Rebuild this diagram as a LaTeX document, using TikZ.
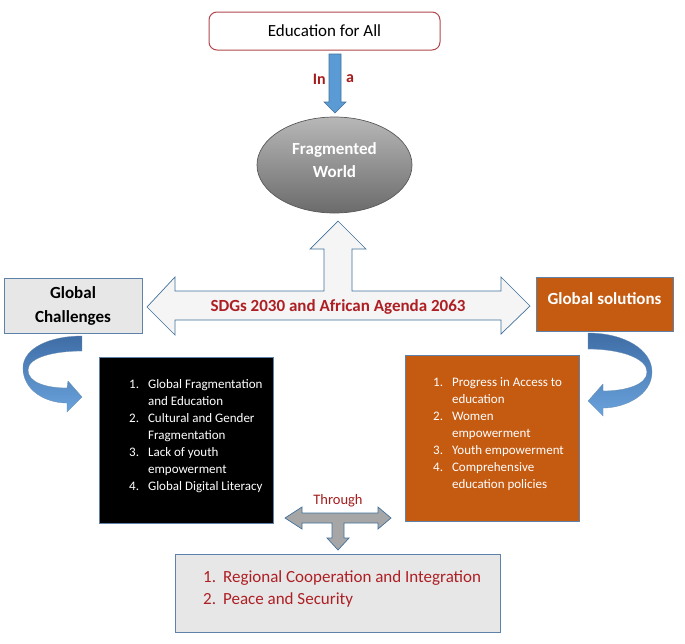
\documentclass[tikz,border=0pt]{standalone}
\usepackage{fontspec}
\setmainfont{Carlito}
\usetikzlibrary{shapes.geometric}
\definecolor{dred}{HTML}{A51C1C}
\definecolor{listred}{HTML}{AE1F24}
\definecolor{borderred}{HTML}{B0474A}
\definecolor{steel}{HTML}{41719C}
\definecolor{arrowblue}{HTML}{5B9BD5}
\definecolor{orng}{HTML}{C55A11}
\definecolor{lgray}{HTML}{E7E7E7}
\definecolor{boxborder}{HTML}{5F82AA}
\definecolor{cdark}{HTML}{3F6DA6}
\definecolor{clight}{HTML}{6AA3DC}
\definecolor{blockwhite}{HTML}{F5F5F5}
\definecolor{blockgray}{HTML}{A6A6A6}
\tikzset{
  plainbox/.style={draw=boxborder, line width=0.6pt, inner sep=0pt},
  bigbold/.style={font=\bfseries\fontsize{17}{24}\selectfont},
  listtext/.style={inner sep=0pt, anchor=north west, text=white},
  blockarrow/.style={draw=steel, line width=0.7pt},
  curvedarrow/.style={draw=steel!80, line width=0.3pt, top color=cdark, bottom color=clight}
}
\begin{document}
\begin{tikzpicture}[x=1pt,y=-1pt]
\useasboundingbox[fill=white] (0,0) rectangle (685,643);

% Education for All
\node[rounded corners=8pt, draw=borderred, line width=1pt, fill=white,
      minimum width=231pt, minimum height=38pt, font=\fontsize{17}{20}\selectfont]
      (efa) at (324.5,31) {Education for All};

% down arrow
\draw[fill=arrowblue, draw=steel, line width=0.6pt]
  (329,54) -- (341,54) -- (341,102) -- (346,102) -- (335,113) -- (324,102) -- (329,102) -- cycle;
\node[text=dred, font=\bfseries\fontsize{16}{19}\selectfont, anchor=east, inner sep=0pt] (inl) at (326,79) {In};
\node[text=dred, font=\bfseries\fontsize{16}{19}\selectfont, anchor=west, inner sep=0pt] (inr) at (346,79) {a};

% Fragmented World
\node[ellipse, draw=black!65, line width=0.7pt, top color=black!28, bottom color=black!58,
      minimum width=155pt, minimum height=96pt] (fw) at (334.5,165) {};
\node[text=white, bigbold, align=center, font=\bfseries\fontsize{17}{23}\selectfont] (fwt) at (334.5,160.5) {Fragmented\\World};

% big three-way block arrow
\draw[blockarrow, fill=blockwhite]
  (147,307) -- (175,277) -- (175,291) -- (324,291) -- (324,249) -- (310,249) -- (338,221)
  -- (366,249) -- (352,249) -- (352,291) -- (501,291) -- (501,277) -- (530,306)
  -- (501,334) -- (501,320) -- (175,320) -- (175,335) -- cycle;
\node[text=listred, bigbold] (sdg) at (338,307) {SDGs 2030 and African Agenda 2063};

% Global Challenges
\node[plainbox, fill=lgray, minimum width=138pt, minimum height=55pt, align=center, bigbold]
  (gc) at (73,305.5) {Global\\Challenges};

% Global solutions
\node[plainbox, fill=orng, minimum width=137pt, minimum height=54pt] (gs) at (604.5,304) {};
\node[text=white, bigbold] (gst) at (604.5,299) {Global solutions};

% challenge list box
\node[plainbox, fill=black, minimum width=174pt, minimum height=166pt] (chb) at (186,440) {};
\node[listtext] (chl) at (129,376.4) {\fontsize{13}{17}\selectfont
  \begin{tabular}{@{}r@{\hspace{9pt}}l@{}}
  1. & Global Fragmentation\\
     & and Education\\
  2. & Cultural and Gender\\
     & Fragmentation\\
  3. & Lack of youth\\
     & empowerment\\
  4. & Global Digital Literacy
  \end{tabular}};

% solution list box
\node[plainbox, fill=orng, minimum width=174pt, minimum height=166pt] (sob) at (492,438) {};
\node[listtext] (sol) at (433,374.4) {\fontsize{13}{17}\selectfont
  \begin{tabular}{@{}r@{\hspace{9pt}}l@{}}
  1. & Progress in Access to\\
     & education\\
  2. & Women\\
     & empowerment\\
  3. & Youth empowerment\\
  4. & Comprehensive\\
     & education policies
  \end{tabular}};

% curved arrows
\path[curvedarrow]
  (82,336) .. controls (50,336) and (23,348) .. (23,368)
  .. controls (23,390) and (45,403) .. (67,403)
  -- (67,412) -- (82,397) -- (68,381) -- (67,388)
  .. controls (45,388) and (28,382) .. (28,370)
  .. controls (28,357) and (55,351) .. (82,351) -- cycle;
\path[curvedarrow]
  (588,333) .. controls (625,333) and (652,350) .. (652,372)
  .. controls (652,395) and (625,408) .. (603,408)
  -- (603,416) -- (588,401) -- (603,384) -- (603,391)
  .. controls (625,391) and (647,385) .. (647,372)
  .. controls (647,358) and (620,349) .. (588,349) -- cycle;

% gray T arrow
\draw[blockarrow, fill=blockgray]
  (285,518) -- (302,507) -- (302,513) -- (378,513) -- (378,507) -- (391,518) -- (378,529)
  -- (378,523) -- (344,523) -- (344,538) -- (349,538) -- (338,550) -- (327,538) -- (332,538)
  -- (332,523) -- (302,523) -- (302,529) -- cycle;
\node[text=dred, font=\fontsize{14.5}{17}\selectfont] (thr) at (338,501) {Through};

% bottom box
\node[plainbox, fill=lgray, minimum width=325pt, minimum height=78pt] (bot) at (337.5,593) {};
\node[listtext, text=listred] (botl) at (203,567.2) {\fontsize{17}{22}\selectfont
  \begin{tabular}{@{}r@{\hspace{7pt}}l@{}}
  1. & Regional Cooperation and Integration\\
  2. & Peace and Security
  \end{tabular}};
\end{tikzpicture}
\end{document}
